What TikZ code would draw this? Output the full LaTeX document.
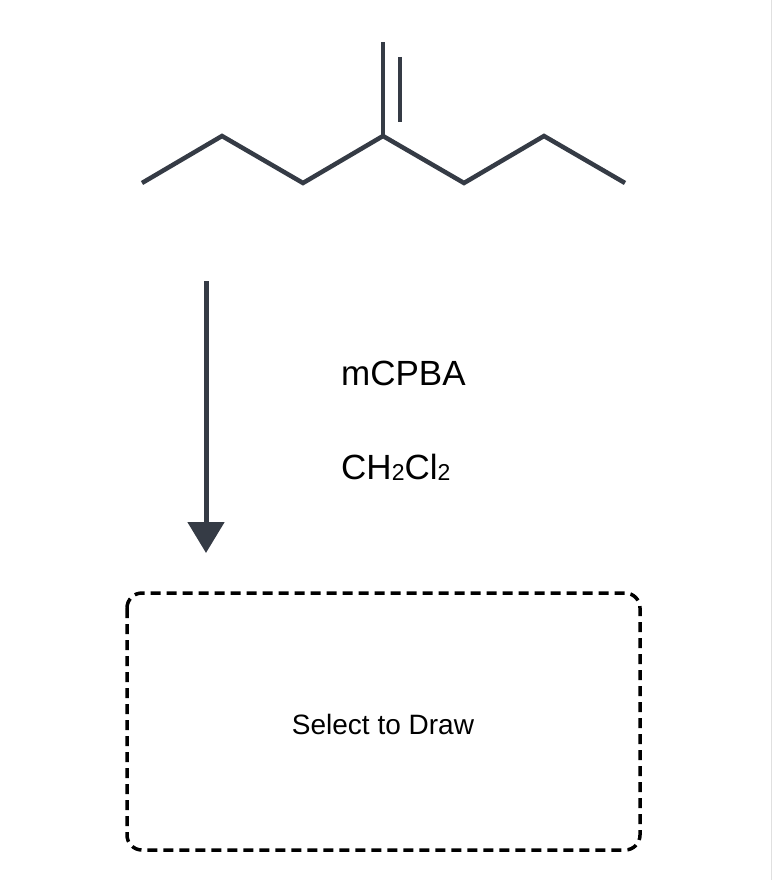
\documentclass[tikz,border=0pt]{standalone}
\usepackage{fontspec}
\setmainfont{Liberation Sans}
\usetikzlibrary{arrows.meta}
\definecolor{ink}{HTML}{353B45}
\begin{document}
\begin{tikzpicture}[x=1pt,y=-1pt,
  bond/.style={line width=4.5pt,draw=ink,line join=miter,line cap=butt},
  lbl/.style={font=\fontsize{35}{40}\selectfont,text=black,anchor=west,inner sep=0pt},
  dashbox/.style={line width=3.5pt,draw=black,dash pattern=on 10pt off 6pt,rounded corners=15pt}]
\useasboundingbox (0,0) rectangle (774,880);
\draw[line width=1pt,draw=black!12] (771,0) -- (771,880);
\coordinate (c1) at (142,183);
\coordinate (c2) at (222,136);
\coordinate (c3) at (303,183);
\coordinate (c4) at (383,136);
\coordinate (c5) at (464,183);
\coordinate (c6) at (544,136);
\coordinate (c7) at (625,183);
\coordinate (m) at (383,42);
\coordinate (ma) at (400,57);
\coordinate (mb) at (400,122);
\draw[bond] (c1) -- (c2) -- (c3) -- (c4) -- (c5) -- (c6) -- (c7);
\draw[bond] (c4) -- (m);
\draw[bond] (ma) -- (mb);
\coordinate (as) at (206,281);
\coordinate (ae) at (206,553);
\draw[line width=5pt,draw=ink,-{Triangle[width=36pt,length=31pt]}] (as) -- (ae);
\node[lbl] (r1) at (341,373) {mCPBA};
\node[lbl] (r2) at (341,467) {CH\raisebox{-0.05ex}{\fontsize{23}{26}\selectfont 2}Cl\raisebox{-0.05ex}{\fontsize{23}{26}\selectfont 2}};
\draw[dashbox] (127,593) rectangle (640,850);
\node[font=\fontsize{28}{32}\selectfont,inner sep=0pt] (sel) at (383,724) {Select to Draw};
\end{tikzpicture}
\end{document}
